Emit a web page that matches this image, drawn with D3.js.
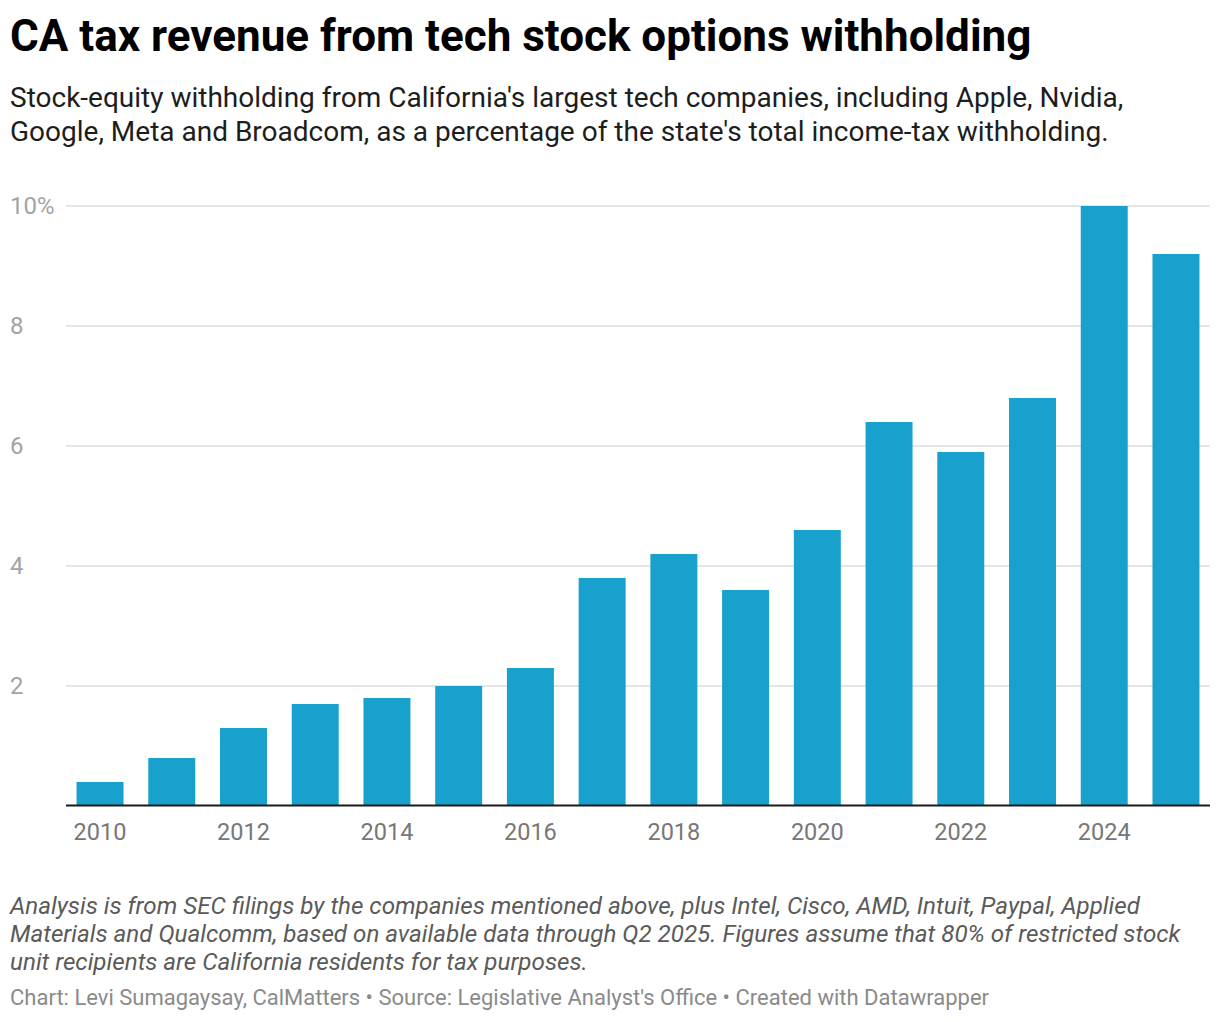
<!DOCTYPE html>
<html>
<head>
<meta charset="utf-8">
<title>CA tax revenue from tech stock options withholding</title>
<script src="https://d3js.org/d3.v7.min.js"></script>
<style>
body { margin: 0; background: #fff; font-family: Roboto, "Noto Sans", sans-serif; }
</style>
</head>
<body>
<div id="chart"></div>
<script>
// data
var years = [2010, 2011, 2012, 2013, 2014, 2015, 2016, 2017, 2018, 2019, 2020, 2021, 2022, 2023, 2024, 2025];
var shares = [0.4, 0.8, 1.3, 1.7, 1.8, 2.0, 2.3, 3.8, 4.2, 3.6, 4.6, 6.4, 5.9, 6.8, 10.0, 9.2];
var yTicks = [2, 4, 6, 8, 10];
var xTickYears = [2010, 2012, 2014, 2016, 2018, 2020, 2022, 2024];

var title = "CA tax revenue from tech stock options withholding";
var subtitle = [
  "Stock-equity withholding from California's largest tech companies, including Apple, Nvidia,",
  "Google, Meta and Broadcom, as a percentage of the state's total income-tax withholding."
];
var notes = [
  "Analysis is from SEC filings by the companies mentioned above, plus Intel, Cisco, AMD, Intuit, Paypal, Applied",
  "Materials and Qualcomm, based on available data through Q2 2025. Figures assume that 80% of restricted stock",
  "unit recipients are California residents for tax purposes."
];
var credit = "Chart: Levi Sumagaysay, CalMatters \u2022 Source: Legislative Analyst's Office \u2022 Created with Datawrapper";

var width = 1220, height = 1022;
var svg = d3.select("#chart").append("svg")
  .attr("width", width).attr("height", height);

svg.append("text")
  .attr("x", 10).attr("y", 51)
  .style("font-size", "44px").style("font-weight", "700").style("fill", "#000")
  .text(title);

svg.selectAll(".sub").data(subtitle).enter().append("text")
  .attr("class", "sub")
  .attr("x", 10).attr("y", function(d, i) { return 107 + i * 34; })
  .style("font-size", "28px").style("fill", "#1d1d1d")
  .text(function(d) { return d; });

var x = d3.scaleBand().domain(years).range([66, 1210])
  .paddingInner(0.345).paddingOuter(0.147);
var y = d3.scaleLinear().domain([0, 10]).range([806, 206]);

// gridlines
svg.append("g").selectAll("line").data(yTicks).enter().append("line")
  .attr("x1", 66).attr("x2", 1210)
  .attr("y1", function(d) { return y(d); }).attr("y2", function(d) { return y(d); })
  .style("stroke", "#e5e5e5").style("stroke-width", 2);

svg.append("g").selectAll("text").data(yTicks).enter().append("text")
  .attr("x", 10).attr("y", function(d) { return y(d); })
  .attr("dy", "0.35em")
  .style("font-size", "24px").style("fill", "#a3a3a3")
  .text(function(d) { return d === 10 ? d + "%" : d; });

// bars
svg.append("g").selectAll("rect").data(shares).enter().append("rect")
  .attr("x", function(d, i) { return x(years[i]); })
  .attr("width", x.bandwidth())
  .attr("y", function(d) { return y(d); })
  .attr("height", function(d) { return y(0) - y(d); })
  .style("fill", "#18a1cd");

// baseline
svg.append("line")
  .attr("x1", 66).attr("x2", 1210).attr("y1", y(0) - 0.5).attr("y2", y(0) - 0.5)
  .style("stroke", "#1a1a1a").style("stroke-width", 2);

var xAxis = d3.axisBottom(x).tickValues(xTickYears).tickSize(0).tickPadding(0);
var gx = svg.append("g").attr("transform", "translate(0," + 840 + ")").call(xAxis);
gx.select(".domain").remove();
gx.selectAll("text").attr("dy", 0)
  .style("font-family", "Roboto, sans-serif").style("font-size", "23.5px").style("fill", "#777");

svg.selectAll(".note").data(notes).enter().append("text")
  .attr("class", "note")
  .attr("x", 10).attr("y", function(d, i) { return 914 + i * 28; })
  .style("font-size", "24.2px").style("font-style", "italic").style("fill", "#5a5a5a")
  .text(function(d) { return d; });

svg.append("text")
  .attr("x", 10).attr("y", 1005)
  .style("font-size", "22px").style("fill", "#8a8a8a")
  .text(credit);
</script>
</body>
</html>
